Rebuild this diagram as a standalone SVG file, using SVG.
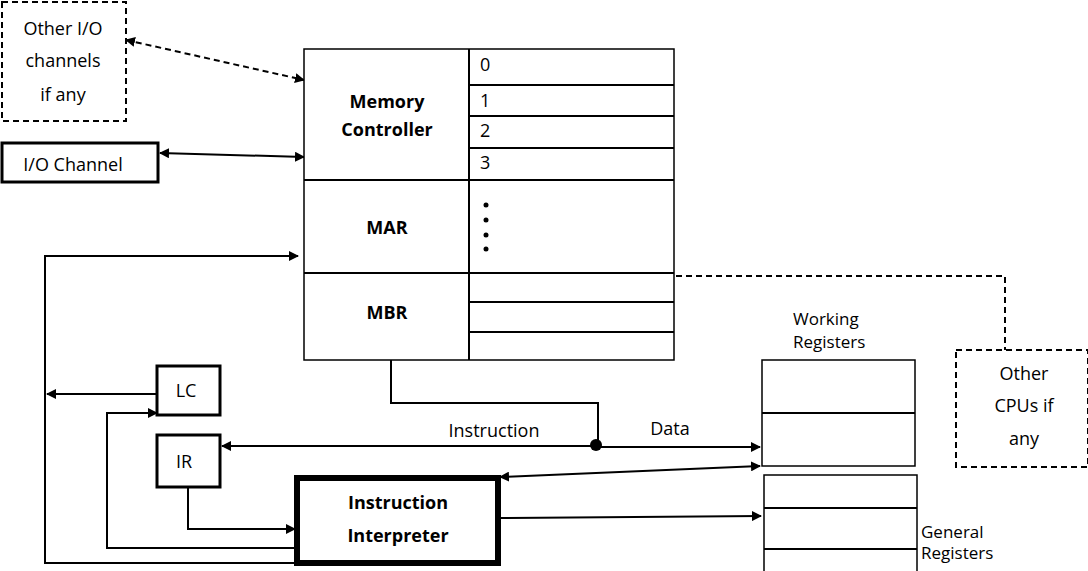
<svg xmlns="http://www.w3.org/2000/svg" width="1088" height="571" viewBox="0 0 1088 571">
<style>
text{font-family:"Open Sans","Liberation Sans",sans-serif;font-size:18px;fill:#000}
.b{font-weight:bold}
.m{text-anchor:middle}
.s{font-size:17px}
.l{stroke:#000;stroke-width:2;fill:none}
.d{stroke:#000;stroke-width:2;fill:none;stroke-dasharray:6,4}
.bx{fill:#fff;stroke:#000;stroke-width:1.5}
</style>
<defs>
<marker id="a" markerWidth="10" markerHeight="10" refX="9" refY="5" orient="auto-start-reverse" markerUnits="userSpaceOnUse"><path d="M0,0L10,5L0,10z"/></marker>
</defs>
<rect width="1088" height="571" fill="#fff"/>
<g id="connectors">
<path class="d" d="M126,40L304,80" marker-start="url(#a)" marker-end="url(#a)"/>
<path class="l" d="M160,153L304,157" marker-start="url(#a)" marker-end="url(#a)"/>
<path class="l" d="M295,563H45V256H298" marker-end="url(#a)"/>
<path class="l" d="M157,394H47" marker-end="url(#a)"/>
<path class="l" d="M295,548H107V413H157" marker-end="url(#a)"/>
<path class="l" d="M391,360V403H598V446"/>
<path class="l" d="M595,446H222" marker-end="url(#a)"/>
<path class="l" d="M595,447H760" marker-end="url(#a)"/>
<circle cx="596" cy="445" r="6"/>
<path class="l" d="M188,487V529H295" marker-end="url(#a)"/>
<path class="l" d="M500,477L760,466" marker-start="url(#a)" marker-end="url(#a)"/>
<path class="l" d="M500,518L761,516" marker-end="url(#a)"/>
<path class="d" d="M676,276H1005V350"/>
<text x="494" y="437" class="m">Instruction</text>
<text x="670" y="435" class="m">Data</text>
</g>
<g id="other-io"><rect x="2" y="2" width="124" height="119" fill="#fff" class="d"/>
<text x="63" y="35" class="m">Other I/O</text><text x="63" y="67" class="m">channels</text><text x="63" y="101" class="m">if any</text></g>
<g id="io-channel"><rect x="2" y="143" width="156" height="39" fill="#fff" stroke="#000" stroke-width="3"/>
<text x="73" y="171" class="m">I/O Channel</text></g>
<g id="memory">
<rect x="304" y="49" width="370" height="311" class="bx"/>
<path class="l" stroke-width="1.5" d="M469,49V360M304,180H674M304,273H674M469,85H674M469,116H674M469,148H674M469,302H674M469,332H674"/>
<text x="387" y="108" class="m b">Memory</text><text x="387" y="136" class="m b">Controller</text>
<text x="387" y="234" class="m b">MAR</text><text x="387" y="319" class="m b">MBR</text>
<text x="480" y="71">0</text><text x="480" y="107">1</text><text x="480" y="137">2</text><text x="480" y="169">3</text>
<circle cx="486" cy="205" r="2.5"/><circle cx="486" cy="220" r="2.5"/><circle cx="486" cy="235" r="2.5"/><circle cx="486" cy="249" r="2.5"/>
</g>
<g id="lc"><rect x="157" y="366" width="63" height="49" fill="#fff" stroke="#000" stroke-width="3"/><text x="186" y="397" class="m">LC</text></g>
<g id="ir"><rect x="157" y="435" width="63" height="52" fill="#fff" stroke="#000" stroke-width="3"/><text x="184" y="468" class="m">IR</text></g>
<g id="interpreter"><rect x="297" y="478" width="201" height="85" fill="#fff" stroke="#000" stroke-width="6"/>
<text x="398" y="509" class="m b">Instruction</text><text x="398" y="542" class="m b">Interpreter</text></g>
<g id="working"><rect x="762" y="360" width="153" height="106" class="bx" stroke-width="2"/><path class="l" d="M762,413H915"/>
<text x="793" y="325" class="s">Working</text><text x="793" y="348" class="s">Registers</text></g>
<g id="general"><rect x="764" y="475" width="153" height="100" class="bx" stroke-width="2"/><path class="l" d="M764,508H917M764,549H917"/>
<text x="921" y="538" class="s">General</text><text x="921" y="559" class="s">Registers</text></g>
<g id="other-cpus"><rect x="956" y="350" width="132" height="117" fill="#fff" class="d"/>
<text x="1024" y="380" class="m">Other</text><text x="1024" y="412" class="m">CPUs if</text><text x="1024" y="445" class="m">any</text></g>
</svg>
